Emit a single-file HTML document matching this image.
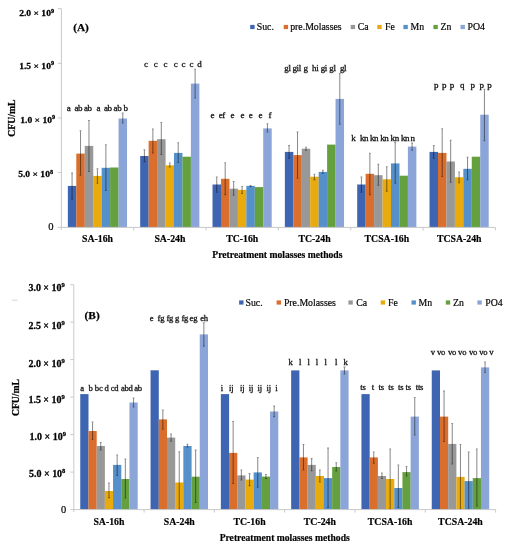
<!DOCTYPE html>
<html><head><meta charset="utf-8"><style>
html,body{margin:0;padding:0;background:#fff;width:512px;height:550px;overflow:hidden}
svg{display:block;will-change:transform}
text{font-family:"Liberation Serif",serif;fill:#000}
.b{font-weight:bold}
.l{stroke:#222;stroke-width:0.3px}
.t{stroke:#000;stroke-width:0.25px}
.g{stroke:#111;stroke-width:0.2px}
</style></head><body>
<svg width="512" height="550" viewBox="0 0 512 550">
<rect width="512" height="550" fill="#fff"/>
<rect x="67.85" y="185.9" width="8.5" height="41.5" fill="#3E65B2"/>
<rect x="76.3" y="153.6" width="8.5" height="73.8" fill="#DA6E2D"/>
<rect x="84.75" y="145.9" width="8.5" height="81.5" fill="#989898"/>
<rect x="93.2" y="175.9" width="8.5" height="51.5" fill="#E8AA0C"/>
<rect x="101.65" y="167.8" width="8.5" height="59.6" fill="#5590CA"/>
<rect x="110.1" y="167.5" width="8.5" height="59.9" fill="#65A03F"/>
<rect x="118.55" y="118.5" width="8.5" height="108.9" fill="#8CA5D8"/>
<path d="M72.07 173.1V199.3M71.17 173.1H72.97M71.17 199.3H72.97" stroke="rgba(0,0,0,0.45)" stroke-width="1.05" fill="none"/>
<path d="M80.52 130.7V175.2M79.62 130.7H81.42M79.62 175.2H81.42" stroke="rgba(0,0,0,0.45)" stroke-width="1.05" fill="none"/>
<path d="M88.97 120.5V171.4M88.07 120.5H89.88M88.07 171.4H89.88" stroke="rgba(0,0,0,0.45)" stroke-width="1.05" fill="none"/>
<path d="M97.42 168.8V183.3M96.52 168.8H98.32M96.52 183.3H98.32" stroke="rgba(0,0,0,0.45)" stroke-width="1.05" fill="none"/>
<path d="M105.88 144.7V190.4M104.97 144.7H106.78M104.97 190.4H106.78" stroke="rgba(0,0,0,0.45)" stroke-width="1.05" fill="none"/>
<path d="M122.77 112.9V123M121.87 112.9H123.67M121.87 123H123.67" stroke="rgba(0,0,0,0.45)" stroke-width="1.05" fill="none"/>
<rect x="140.18" y="156" width="8.5" height="71.4" fill="#3E65B2"/>
<rect x="148.63" y="140.8" width="8.5" height="86.6" fill="#DA6E2D"/>
<rect x="157.08" y="139.2" width="8.5" height="88.2" fill="#989898"/>
<rect x="165.53" y="165.3" width="8.5" height="62.1" fill="#E8AA0C"/>
<rect x="173.98" y="152.9" width="8.5" height="74.5" fill="#5590CA"/>
<rect x="182.43" y="156.7" width="8.5" height="70.7" fill="#65A03F"/>
<rect x="190.88" y="83.6" width="8.5" height="143.8" fill="#8CA5D8"/>
<path d="M144.41 149.7V161.8M143.51 149.7H145.31M143.51 161.8H145.31" stroke="rgba(0,0,0,0.45)" stroke-width="1.05" fill="none"/>
<path d="M152.86 129V152.9M151.96 129H153.76M151.96 152.9H153.76" stroke="rgba(0,0,0,0.45)" stroke-width="1.05" fill="none"/>
<path d="M161.31 122.4V154.5M160.41 122.4H162.21M160.41 154.5H162.21" stroke="rgba(0,0,0,0.45)" stroke-width="1.05" fill="none"/>
<path d="M169.76 163V166.9M168.86 163H170.66M168.86 166.9H170.66" stroke="rgba(0,0,0,0.45)" stroke-width="1.05" fill="none"/>
<path d="M178.21 142.7V162.4M177.31 142.7H179.11M177.31 162.4H179.11" stroke="rgba(0,0,0,0.45)" stroke-width="1.05" fill="none"/>
<path d="M195.11 69.3V97.9M194.21 69.3H196.01M194.21 97.9H196.01" stroke="rgba(0,0,0,0.45)" stroke-width="1.05" fill="none"/>
<rect x="212.52" y="184.5" width="8.5" height="42.9" fill="#3E65B2"/>
<rect x="220.97" y="178.8" width="8.5" height="48.6" fill="#DA6E2D"/>
<rect x="229.42" y="188.7" width="8.5" height="38.7" fill="#989898"/>
<rect x="237.87" y="189.9" width="8.5" height="37.5" fill="#E8AA0C"/>
<rect x="246.32" y="185.9" width="8.5" height="41.5" fill="#5590CA"/>
<rect x="254.77" y="187.1" width="8.5" height="40.3" fill="#65A03F"/>
<rect x="263.22" y="128.4" width="8.5" height="99" fill="#8CA5D8"/>
<path d="M216.74 176.9V192.3M215.84 176.9H217.64M215.84 192.3H217.64" stroke="rgba(0,0,0,0.45)" stroke-width="1.05" fill="none"/>
<path d="M225.19 162.7V194.6M224.29 162.7H226.09M224.29 194.6H226.09" stroke="rgba(0,0,0,0.45)" stroke-width="1.05" fill="none"/>
<path d="M233.64 181.6V195.3M232.74 181.6H234.54M232.74 195.3H234.54" stroke="rgba(0,0,0,0.45)" stroke-width="1.05" fill="none"/>
<path d="M242.09 186.4V193.4M241.19 186.4H242.99M241.19 193.4H242.99" stroke="rgba(0,0,0,0.45)" stroke-width="1.05" fill="none"/>
<path d="M250.54 185.4V186.4M249.64 185.4H251.44M249.64 186.4H251.44" stroke="rgba(0,0,0,0.45)" stroke-width="1.05" fill="none"/>
<path d="M267.44 123.7V131.9M266.54 123.7H268.34M266.54 131.9H268.34" stroke="rgba(0,0,0,0.45)" stroke-width="1.05" fill="none"/>
<rect x="284.85" y="151.9" width="8.5" height="75.5" fill="#3E65B2"/>
<rect x="293.3" y="155.1" width="8.5" height="72.3" fill="#DA6E2D"/>
<rect x="301.75" y="148.7" width="8.5" height="78.7" fill="#989898"/>
<rect x="310.2" y="176.7" width="8.5" height="50.7" fill="#E8AA0C"/>
<rect x="318.65" y="171.9" width="8.5" height="55.5" fill="#5590CA"/>
<rect x="327.1" y="144.6" width="8.5" height="82.8" fill="#65A03F"/>
<rect x="335.55" y="98.9" width="8.5" height="128.5" fill="#8CA5D8"/>
<path d="M289.07 145.6V158.3M288.18 145.6H289.97M288.18 158.3H289.97" stroke="rgba(0,0,0,0.45)" stroke-width="1.05" fill="none"/>
<path d="M297.52 131.9V178.3M296.62 131.9H298.42M296.62 178.3H298.42" stroke="rgba(0,0,0,0.45)" stroke-width="1.05" fill="none"/>
<path d="M305.97 147.2V150.3M305.07 147.2H306.87M305.07 150.3H306.87" stroke="rgba(0,0,0,0.45)" stroke-width="1.05" fill="none"/>
<path d="M314.42 174.2V179.6M313.52 174.2H315.32M313.52 179.6H315.32" stroke="rgba(0,0,0,0.45)" stroke-width="1.05" fill="none"/>
<path d="M322.87 170.3V173.2M321.97 170.3H323.77M321.97 173.2H323.77" stroke="rgba(0,0,0,0.45)" stroke-width="1.05" fill="none"/>
<path d="M339.77 73.4V124.3M338.88 73.4H340.67M338.88 124.3H340.67" stroke="rgba(0,0,0,0.45)" stroke-width="1.05" fill="none"/>
<rect x="357.18" y="184.5" width="8.5" height="42.9" fill="#3E65B2"/>
<rect x="365.63" y="173.8" width="8.5" height="53.6" fill="#DA6E2D"/>
<rect x="374.08" y="175.2" width="8.5" height="52.2" fill="#989898"/>
<rect x="382.53" y="179.3" width="8.5" height="48.1" fill="#E8AA0C"/>
<rect x="390.98" y="163.4" width="8.5" height="64" fill="#5590CA"/>
<rect x="399.43" y="175.7" width="8.5" height="51.7" fill="#65A03F"/>
<rect x="407.88" y="146.6" width="8.5" height="80.8" fill="#8CA5D8"/>
<path d="M361.41 176.9V192.3M360.51 176.9H362.31M360.51 192.3H362.31" stroke="rgba(0,0,0,0.45)" stroke-width="1.05" fill="none"/>
<path d="M369.86 153.2V194.6M368.96 153.2H370.76M368.96 194.6H370.76" stroke="rgba(0,0,0,0.45)" stroke-width="1.05" fill="none"/>
<path d="M378.31 164.3V185.2M377.41 164.3H379.21M377.41 185.2H379.21" stroke="rgba(0,0,0,0.45)" stroke-width="1.05" fill="none"/>
<path d="M386.76 166.7V191.1M385.86 166.7H387.66M385.86 191.1H387.66" stroke="rgba(0,0,0,0.45)" stroke-width="1.05" fill="none"/>
<path d="M395.21 142.6V183.3M394.31 142.6H396.11M394.31 183.3H396.11" stroke="rgba(0,0,0,0.45)" stroke-width="1.05" fill="none"/>
<path d="M412.11 143.1V150.2M411.21 143.1H413.01M411.21 150.2H413.01" stroke="rgba(0,0,0,0.45)" stroke-width="1.05" fill="none"/>
<rect x="429.52" y="151.9" width="8.5" height="75.5" fill="#3E65B2"/>
<rect x="437.97" y="152.9" width="8.5" height="74.5" fill="#DA6E2D"/>
<rect x="446.42" y="161.5" width="8.5" height="65.9" fill="#989898"/>
<rect x="454.87" y="177.3" width="8.5" height="50.1" fill="#E8AA0C"/>
<rect x="463.32" y="168.8" width="8.5" height="58.6" fill="#5590CA"/>
<rect x="471.77" y="156.7" width="8.5" height="70.7" fill="#65A03F"/>
<rect x="480.22" y="114.7" width="8.5" height="112.7" fill="#8CA5D8"/>
<path d="M433.74 145.6V158.3M432.84 145.6H434.64M432.84 158.3H434.64" stroke="rgba(0,0,0,0.45)" stroke-width="1.05" fill="none"/>
<path d="M442.19 128.7V176.4M441.29 128.7H443.09M441.29 176.4H443.09" stroke="rgba(0,0,0,0.45)" stroke-width="1.05" fill="none"/>
<path d="M450.64 140.2V182.1M449.74 140.2H451.54M449.74 182.1H451.54" stroke="rgba(0,0,0,0.45)" stroke-width="1.05" fill="none"/>
<path d="M459.09 171.9V182.7M458.19 171.9H459.99M458.19 182.7H459.99" stroke="rgba(0,0,0,0.45)" stroke-width="1.05" fill="none"/>
<path d="M467.54 157.3V179.6M466.64 157.3H468.44M466.64 179.6H468.44" stroke="rgba(0,0,0,0.45)" stroke-width="1.05" fill="none"/>
<path d="M484.44 89.3V140.8M483.54 89.3H485.34M483.54 140.8H485.34" stroke="rgba(0,0,0,0.45)" stroke-width="1.05" fill="none"/>
<path d="M61.4 8.6V229.9M57.9 227.4H495.4" stroke="#C9C9C9" stroke-width="1" fill="none"/>
<path d="M57.9 8.6H61.4M57.9 63.3H61.4M57.9 117.9H61.4M57.9 172.4H61.4M133.73 227.4V230.4M206.07 227.4V230.4M278.4 227.4V230.4M350.73 227.4V230.4M423.07 227.4V230.4M495.4 227.4V230.4" stroke="#C9C9C9" stroke-width="1" fill="none"/>
<text transform="translate(54.1 16.2) scale(1.05 1)" text-anchor="end" class="b t" font-size="9.12">2.0 × 10<tspan font-size="6.02" dy="-3.65">9</tspan></text>
<text transform="translate(54.1 68.9) scale(1.05 1)" text-anchor="end" class="b t" font-size="9.12">1.5 × 10<tspan font-size="6.02" dy="-3.65">9</tspan></text>
<text transform="translate(55.2 123.1) scale(1.05 1)" text-anchor="end" class="b t" font-size="9.12">1.0 × 10<tspan font-size="6.02" dy="-3.65">9</tspan></text>
<text transform="translate(53.1 177.2) scale(1.05 1)" text-anchor="end" class="b t" font-size="9.12">5.0 × 10<tspan font-size="6.02" dy="-3.65">8</tspan></text>
<text x="53.6" y="230.2" text-anchor="end" font-size="10.6" class="g">0</text>
<text x="66.7" y="110.6" font-size="9" letter-spacing="-0.4" class="l">a</text>
<text x="74.5" y="110.6" font-size="9" letter-spacing="-0.4" class="l">ab</text>
<text x="83.9" y="110.6" font-size="9" letter-spacing="-0.4" class="l">ab</text>
<text x="96.4" y="110.6" font-size="9" letter-spacing="-0.4" class="l">a</text>
<text x="103.9" y="110.6" font-size="9" letter-spacing="-0.4" class="l">ab</text>
<text x="113.6" y="110.6" font-size="9" letter-spacing="-0.4" class="l">ab</text>
<text x="123.45" y="110.6" font-size="9" letter-spacing="-0.4" class="l">b</text>
<text x="144.1" y="67.1" font-size="9" letter-spacing="-0.4" class="l">c</text>
<text x="153.7" y="67.1" font-size="9" letter-spacing="-0.4" class="l">c</text>
<text x="163.6" y="67.1" font-size="9" letter-spacing="-0.4" class="l">c</text>
<text x="173.7" y="67.1" font-size="9" letter-spacing="-0.4" class="l">c</text>
<text x="181.6" y="67.1" font-size="9" letter-spacing="-0.4" class="l">c</text>
<text x="189.4" y="67.1" font-size="9" letter-spacing="-0.4" class="l">c</text>
<text x="197.2" y="67.1" font-size="9" letter-spacing="-0.4" class="l">d</text>
<text x="210.6" y="118.2" font-size="9" letter-spacing="-0.4" class="l">e</text>
<text x="218.7" y="118.2" font-size="9" letter-spacing="-0.4" class="l">ef</text>
<text x="230.5" y="118.2" font-size="9" letter-spacing="-0.4" class="l">e</text>
<text x="240.6" y="118.2" font-size="9" letter-spacing="-0.4" class="l">e</text>
<text x="248.7" y="118.2" font-size="9" letter-spacing="-0.4" class="l">e</text>
<text x="258.6" y="118.2" font-size="9" letter-spacing="-0.4" class="l">e</text>
<text x="268.45" y="118.2" font-size="9" letter-spacing="-0.4" class="l">f</text>
<text x="284.3" y="70.9" font-size="9" letter-spacing="-0.4" class="l">gl</text>
<text x="292.5" y="70.9" font-size="9" letter-spacing="-0.4" class="l">gil</text>
<text x="303.5" y="70.9" font-size="9" letter-spacing="-0.4" class="l">g</text>
<text x="312.1" y="70.9" font-size="9" letter-spacing="-0.4" class="l">hi</text>
<text x="320.7" y="70.9" font-size="9" letter-spacing="-0.4" class="l">gi</text>
<text x="329.3" y="70.9" font-size="9" letter-spacing="-0.4" class="l">gl</text>
<text x="339.9" y="70.9" font-size="9" letter-spacing="-0.4" class="l">gl</text>
<text x="351.3" y="140.9" font-size="9" letter-spacing="-0.4" class="l">k</text>
<text x="359.9" y="140.9" font-size="9" letter-spacing="-0.4" class="l">kn</text>
<text x="370" y="140.9" font-size="9" letter-spacing="-0.4" class="l">kn</text>
<text x="380.2" y="140.9" font-size="9" letter-spacing="-0.4" class="l">kn</text>
<text x="390.6" y="140.9" font-size="9" letter-spacing="-0.4" class="l">kn</text>
<text x="400.95" y="140.9" font-size="9" letter-spacing="-0.4" class="l">kn</text>
<text x="410.6" y="140.9" font-size="9" letter-spacing="-0.4" class="l">n</text>
<text x="433.9" y="87.8" font-size="9" letter-spacing="-0.4" class="l">p</text>
<text x="442" y="87.8" font-size="9" letter-spacing="-0.4" class="l">p</text>
<text x="449.8" y="87.8" font-size="9" letter-spacing="-0.4" class="l">p</text>
<text x="460" y="87.8" font-size="9" letter-spacing="-0.4" class="l">q</text>
<text x="470.45" y="87.8" font-size="9" letter-spacing="-0.4" class="l">p</text>
<text x="479.5" y="87.8" font-size="9" letter-spacing="-0.4" class="l">p</text>
<text x="487.3" y="87.8" font-size="9" letter-spacing="-0.4" class="l">p</text>
<text x="97.57" y="242" text-anchor="middle" class="b g" font-size="9.8">SA-16h</text>
<text x="169.9" y="242" text-anchor="middle" class="b g" font-size="9.8">SA-24h</text>
<text x="242.23" y="242" text-anchor="middle" class="b g" font-size="9.8">TC-16h</text>
<text x="314.57" y="242" text-anchor="middle" class="b g" font-size="9.8">TC-24h</text>
<text x="386.9" y="242" text-anchor="middle" class="b g" font-size="9.8">TCSA-16h</text>
<text x="459.23" y="242" text-anchor="middle" class="b g" font-size="9.8">TCSA-24h</text>
<text x="277.4" y="257.6" text-anchor="middle" class="b g" font-size="9.65">Pretreatment molasses methods</text>
<text x="73.2" y="30.8" class="b t" font-size="11.3">(A)</text>
<text transform="translate(14.7 118.1) rotate(-90)" text-anchor="middle" class="b t" font-size="9.7">CFU/mL</text>
<rect x="250.2" y="24.9" width="4.4" height="4.2" fill="#3E65B2"/>
<text x="256.7" y="29.8" font-size="9.8" class="g">Suc.</text>
<rect x="283.7" y="24.9" width="4.4" height="4.2" fill="#DA6E2D"/>
<text x="290.2" y="29.8" font-size="9.8" class="g">pre.Molasses</text>
<rect x="350.7" y="24.9" width="4.4" height="4.2" fill="#989898"/>
<text x="357.7" y="29.8" font-size="9.8" class="g">Ca</text>
<rect x="377.3" y="24.9" width="4.4" height="4.2" fill="#E8AA0C"/>
<text x="385.1" y="29.8" font-size="9.8" class="g">Fe</text>
<rect x="403.4" y="24.9" width="4.4" height="4.2" fill="#5590CA"/>
<text x="410.5" y="29.8" font-size="9.8" class="g">Mn</text>
<rect x="433.4" y="24.9" width="4.4" height="4.2" fill="#65A03F"/>
<text x="440.5" y="29.8" font-size="9.8" class="g">Zn</text>
<rect x="460.5" y="24.9" width="4.4" height="4.2" fill="#8CA5D8"/>
<text x="467.6" y="29.8" font-size="9.8" class="g">PO4</text>
<rect x="80.25" y="394.1" width="8.25" height="115.5" fill="#3E65B2"/>
<rect x="88.45" y="431" width="8.25" height="78.6" fill="#DA6E2D"/>
<rect x="96.65" y="446" width="8.25" height="63.6" fill="#989898"/>
<rect x="104.85" y="491" width="8.25" height="18.6" fill="#E8AA0C"/>
<rect x="113.05" y="464.9" width="8.25" height="44.7" fill="#5590CA"/>
<rect x="121.25" y="479" width="8.25" height="30.6" fill="#65A03F"/>
<rect x="129.45" y="402.5" width="8.25" height="107.1" fill="#8CA5D8"/>
<path d="M92.55 422V439.4M91.65 422H93.45M91.65 439.4H93.45" stroke="rgba(0,0,0,0.45)" stroke-width="1.05" fill="none"/>
<path d="M100.75 442.4V449.9M99.85 442.4H101.65M99.85 449.9H101.65" stroke="rgba(0,0,0,0.45)" stroke-width="1.05" fill="none"/>
<path d="M108.95 482.9V497.6M108.05 482.9H109.85M108.05 497.6H109.85" stroke="rgba(0,0,0,0.45)" stroke-width="1.05" fill="none"/>
<path d="M117.15 455V475.4M116.25 455H118.05M116.25 475.4H118.05" stroke="rgba(0,0,0,0.45)" stroke-width="1.05" fill="none"/>
<path d="M125.35 458.9V497.9M124.45 458.9H126.25M124.45 497.9H126.25" stroke="rgba(0,0,0,0.45)" stroke-width="1.05" fill="none"/>
<path d="M133.55 398V407M132.65 398H134.45M132.65 407H134.45" stroke="rgba(0,0,0,0.45)" stroke-width="1.05" fill="none"/>
<rect x="150.55" y="370.3" width="8.25" height="139.3" fill="#3E65B2"/>
<rect x="158.75" y="419.4" width="8.25" height="90.2" fill="#DA6E2D"/>
<rect x="166.95" y="437.6" width="8.25" height="72" fill="#989898"/>
<rect x="175.15" y="482.5" width="8.25" height="27.1" fill="#E8AA0C"/>
<rect x="183.35" y="446" width="8.25" height="63.6" fill="#5590CA"/>
<rect x="191.55" y="476.7" width="8.25" height="32.9" fill="#65A03F"/>
<rect x="199.75" y="334.4" width="8.25" height="175.2" fill="#8CA5D8"/>
<path d="M162.85 410V429.2M161.95 410H163.75M161.95 429.2H163.75" stroke="rgba(0,0,0,0.45)" stroke-width="1.05" fill="none"/>
<path d="M171.05 434V441.2M170.15 434H171.95M170.15 441.2H171.95" stroke="rgba(0,0,0,0.45)" stroke-width="1.05" fill="none"/>
<path d="M179.25 451.8V509M178.35 451.8H180.15M178.35 509H180.15" stroke="rgba(0,0,0,0.45)" stroke-width="1.05" fill="none"/>
<path d="M187.45 444.3V447M186.55 444.3H188.35M186.55 447H188.35" stroke="rgba(0,0,0,0.45)" stroke-width="1.05" fill="none"/>
<path d="M195.65 450.1V502.4M194.75 450.1H196.55M194.75 502.4H196.55" stroke="rgba(0,0,0,0.45)" stroke-width="1.05" fill="none"/>
<path d="M203.85 322.7V346.1M202.95 322.7H204.75M202.95 346.1H204.75" stroke="rgba(0,0,0,0.45)" stroke-width="1.05" fill="none"/>
<rect x="220.85" y="394.1" width="8.25" height="115.5" fill="#3E65B2"/>
<rect x="229.05" y="452.9" width="8.25" height="56.7" fill="#DA6E2D"/>
<rect x="237.25" y="475.4" width="8.25" height="34.2" fill="#989898"/>
<rect x="245.45" y="479.6" width="8.25" height="30" fill="#E8AA0C"/>
<rect x="253.65" y="472.4" width="8.25" height="37.2" fill="#5590CA"/>
<rect x="261.85" y="476.6" width="8.25" height="33" fill="#65A03F"/>
<rect x="270.05" y="411.5" width="8.25" height="98.1" fill="#8CA5D8"/>
<path d="M233.15 421.4V483.5M232.25 421.4H234.05M232.25 483.5H234.05" stroke="rgba(0,0,0,0.45)" stroke-width="1.05" fill="none"/>
<path d="M241.35 470V479.9M240.45 470H242.25M240.45 479.9H242.25" stroke="rgba(0,0,0,0.45)" stroke-width="1.05" fill="none"/>
<path d="M249.55 473.6V485.6M248.65 473.6H250.45M248.65 485.6H250.45" stroke="rgba(0,0,0,0.45)" stroke-width="1.05" fill="none"/>
<path d="M257.75 457.4V487.1M256.85 457.4H258.65M256.85 487.1H258.65" stroke="rgba(0,0,0,0.45)" stroke-width="1.05" fill="none"/>
<path d="M265.95 474.5V478.4M265.05 474.5H266.85M265.05 478.4H266.85" stroke="rgba(0,0,0,0.45)" stroke-width="1.05" fill="none"/>
<path d="M274.15 406.1V416.6M273.25 406.1H275.05M273.25 416.6H275.05" stroke="rgba(0,0,0,0.45)" stroke-width="1.05" fill="none"/>
<rect x="291.15" y="370.4" width="8.25" height="139.2" fill="#3E65B2"/>
<rect x="299.35" y="457.4" width="8.25" height="52.2" fill="#DA6E2D"/>
<rect x="307.55" y="464.9" width="8.25" height="44.7" fill="#989898"/>
<rect x="315.75" y="476" width="8.25" height="33.6" fill="#E8AA0C"/>
<rect x="323.95" y="478.1" width="8.25" height="31.5" fill="#5590CA"/>
<rect x="332.15" y="467" width="8.25" height="42.6" fill="#65A03F"/>
<rect x="340.35" y="370.4" width="8.25" height="139.2" fill="#8CA5D8"/>
<path d="M303.45 444.5V470M302.55 444.5H304.35M302.55 470H304.35" stroke="rgba(0,0,0,0.45)" stroke-width="1.05" fill="none"/>
<path d="M311.65 458.6V470.6M310.75 458.6H312.55M310.75 470.6H312.55" stroke="rgba(0,0,0,0.45)" stroke-width="1.05" fill="none"/>
<path d="M319.85 470V482M318.95 470H320.75M318.95 482H320.75" stroke="rgba(0,0,0,0.45)" stroke-width="1.05" fill="none"/>
<path d="M328.05 448.1V507.5M327.15 448.1H328.95M327.15 507.5H328.95" stroke="rgba(0,0,0,0.45)" stroke-width="1.05" fill="none"/>
<path d="M336.25 462.8V470.9M335.35 462.8H337.15M335.35 470.9H337.15" stroke="rgba(0,0,0,0.45)" stroke-width="1.05" fill="none"/>
<path d="M344.45 367.1V374M343.55 367.1H345.35M343.55 374H345.35" stroke="rgba(0,0,0,0.45)" stroke-width="1.05" fill="none"/>
<rect x="361.45" y="394.1" width="8.25" height="115.5" fill="#3E65B2"/>
<rect x="369.65" y="457.4" width="8.25" height="52.2" fill="#DA6E2D"/>
<rect x="377.85" y="476" width="8.25" height="33.6" fill="#989898"/>
<rect x="386.05" y="479" width="8.25" height="30.6" fill="#E8AA0C"/>
<rect x="394.25" y="488" width="8.25" height="21.6" fill="#5590CA"/>
<rect x="402.45" y="472.1" width="8.25" height="37.5" fill="#65A03F"/>
<rect x="410.65" y="416.6" width="8.25" height="93" fill="#8CA5D8"/>
<path d="M373.75 452V463.1M372.85 452H374.65M372.85 463.1H374.65" stroke="rgba(0,0,0,0.45)" stroke-width="1.05" fill="none"/>
<path d="M381.95 473V478.4M381.05 473H382.85M381.05 478.4H382.85" stroke="rgba(0,0,0,0.45)" stroke-width="1.05" fill="none"/>
<path d="M390.15 449V509M389.25 449H391.05M389.25 509H391.05" stroke="rgba(0,0,0,0.45)" stroke-width="1.05" fill="none"/>
<path d="M398.35 464.9V507.5M397.45 464.9H399.25M397.45 507.5H399.25" stroke="rgba(0,0,0,0.45)" stroke-width="1.05" fill="none"/>
<path d="M406.55 466.4V476M405.65 466.4H407.45M405.65 476H407.45" stroke="rgba(0,0,0,0.45)" stroke-width="1.05" fill="none"/>
<path d="M414.75 397.4V434.9M413.85 397.4H415.65M413.85 434.9H415.65" stroke="rgba(0,0,0,0.45)" stroke-width="1.05" fill="none"/>
<rect x="431.75" y="370.4" width="8.25" height="139.2" fill="#3E65B2"/>
<rect x="439.95" y="416.6" width="8.25" height="93" fill="#DA6E2D"/>
<rect x="448.15" y="443.9" width="8.25" height="65.7" fill="#989898"/>
<rect x="456.35" y="476.9" width="8.25" height="32.7" fill="#E8AA0C"/>
<rect x="464.55" y="481.1" width="8.25" height="28.5" fill="#5590CA"/>
<rect x="472.75" y="478.1" width="8.25" height="31.5" fill="#65A03F"/>
<rect x="480.95" y="367.4" width="8.25" height="142.2" fill="#8CA5D8"/>
<path d="M444.05 391.1V441.5M443.15 391.1H444.95M443.15 441.5H444.95" stroke="rgba(0,0,0,0.45)" stroke-width="1.05" fill="none"/>
<path d="M452.25 423.5V464M451.35 423.5H453.15M451.35 464H453.15" stroke="rgba(0,0,0,0.45)" stroke-width="1.05" fill="none"/>
<path d="M460.45 444.5V509M459.55 444.5H461.35M459.55 509H461.35" stroke="rgba(0,0,0,0.45)" stroke-width="1.05" fill="none"/>
<path d="M468.65 452V509M467.75 452H469.55M467.75 509H469.55" stroke="rgba(0,0,0,0.45)" stroke-width="1.05" fill="none"/>
<path d="M476.85 449V506M475.95 449H477.75M475.95 506H477.75" stroke="rgba(0,0,0,0.45)" stroke-width="1.05" fill="none"/>
<path d="M485.05 362V372.5M484.15 362H485.95M484.15 372.5H485.95" stroke="rgba(0,0,0,0.45)" stroke-width="1.05" fill="none"/>
<path d="M73.8 284.7V512.1M70.3 509.6H495.6" stroke="#C9C9C9" stroke-width="1" fill="none"/>
<path d="M70.3 284.7H73.8M70.3 322.2H73.8M70.3 359.6H73.8M70.3 397.1H73.8M70.3 434.6H73.8M70.3 472.1H73.8M144.1 509.6V512.6M214.4 509.6V512.6M284.7 509.6V512.6M355 509.6V512.6M425.3 509.6V512.6M495.6 509.6V512.6" stroke="#C9C9C9" stroke-width="1" fill="none"/>
<text transform="translate(64.8 290.5) scale(1.05 1)" text-anchor="end" class="b t" font-size="9.5">3.0 × 10<tspan font-size="6.27" dy="-3.8">9</tspan></text>
<text transform="translate(64.8 328.6) scale(1.05 1)" text-anchor="end" class="b t" font-size="9.5">2.5 × 10<tspan font-size="6.27" dy="-3.8">9</tspan></text>
<text transform="translate(64.8 366.6) scale(1.05 1)" text-anchor="end" class="b t" font-size="9.5">2.0 × 10<tspan font-size="6.27" dy="-3.8">9</tspan></text>
<text transform="translate(64.8 402.7) scale(1.05 1)" text-anchor="end" class="b t" font-size="9.5">1.5 × 10<tspan font-size="6.27" dy="-3.8">9</tspan></text>
<text transform="translate(66 439.6) scale(1.05 1)" text-anchor="end" class="b t" font-size="9.5">1.0 × 10<tspan font-size="6.27" dy="-3.8">9</tspan></text>
<text transform="translate(65.4 476.8) scale(1.05 1)" text-anchor="end" class="b t" font-size="9.5">5.0 × 10<tspan font-size="6.27" dy="-3.8">8</tspan></text>
<text x="66.2" y="512.9" text-anchor="end" font-size="10.4" class="g">0</text>
<text x="80.3" y="391.2" font-size="8.6" letter-spacing="-0.2" class="l">a</text>
<text x="88.6" y="391.2" font-size="8.6" letter-spacing="-0.2" class="l">b</text>
<text x="94.8" y="391.2" font-size="8.6" letter-spacing="-0.2" class="l">bc</text>
<text x="104.5" y="391.2" font-size="8.6" letter-spacing="-0.2" class="l">d</text>
<text x="110.7" y="391.2" font-size="8.6" letter-spacing="-0.2" class="l">cd</text>
<text x="120.9" y="391.2" font-size="8.6" letter-spacing="-0.2" class="l">abd</text>
<text x="134.2" y="391.2" font-size="8.6" letter-spacing="-0.2" class="l">ab</text>
<text x="149.7" y="321.2" font-size="8.6" letter-spacing="-0.2" class="l">e</text>
<text x="157.5" y="321.2" font-size="8.6" letter-spacing="-0.2" class="l">fg</text>
<text x="166.45" y="321.2" font-size="8.6" letter-spacing="-0.2" class="l">fg</text>
<text x="175" y="321.2" font-size="8.6" letter-spacing="-0.2" class="l">g</text>
<text x="181.45" y="321.2" font-size="8.6" letter-spacing="-0.2" class="l">fg</text>
<text x="189.6" y="321.2" font-size="8.6" letter-spacing="-0.2" class="l">eg</text>
<text x="200.2" y="321.2" font-size="8.6" letter-spacing="-0.2" class="l">eh</text>
<text x="220.8" y="391.2" font-size="8.6" letter-spacing="-0.2" class="l">i</text>
<text x="229.1" y="391.2" font-size="8.6" letter-spacing="-0.2" class="l">ij</text>
<text x="240" y="391.2" font-size="8.6" letter-spacing="-0.2" class="l">ij</text>
<text x="248.7" y="391.2" font-size="8.6" letter-spacing="-0.2" class="l">ij</text>
<text x="257.5" y="391.2" font-size="8.6" letter-spacing="-0.2" class="l">ij</text>
<text x="266.6" y="391.2" font-size="8.6" letter-spacing="-0.2" class="l">ij</text>
<text x="275.2" y="391.2" font-size="8.6" letter-spacing="-0.2" class="l">i</text>
<text x="288.6" y="364.9" font-size="8.6" letter-spacing="-0.2" class="l">k</text>
<text x="299.1" y="364.9" font-size="8.6" letter-spacing="-0.2" class="l">l</text>
<text x="307.4" y="364.9" font-size="8.6" letter-spacing="-0.2" class="l">l</text>
<text x="315.8" y="364.9" font-size="8.6" letter-spacing="-0.2" class="l">l</text>
<text x="324.6" y="364.9" font-size="8.6" letter-spacing="-0.2" class="l">l</text>
<text x="335" y="364.9" font-size="8.6" letter-spacing="-0.2" class="l">l</text>
<text x="343.6" y="364.9" font-size="8.6" letter-spacing="-0.2" class="l">k</text>
<text x="360.2" y="389.7" font-size="8.6" letter-spacing="-0.2" class="l">ts</text>
<text x="371.7" y="389.7" font-size="8.6" letter-spacing="-0.2" class="l">t</text>
<text x="378.5" y="389.7" font-size="8.6" letter-spacing="-0.2" class="l">ts</text>
<text x="388.3" y="389.7" font-size="8.6" letter-spacing="-0.2" class="l">ts</text>
<text x="398" y="389.7" font-size="8.6" letter-spacing="-0.2" class="l">ts</text>
<text x="405.5" y="389.7" font-size="8.6" letter-spacing="-0.2" class="l">ts</text>
<text x="415.7" y="389.7" font-size="8.6" letter-spacing="-0.2" class="l">tts</text>
<text x="430.7" y="355.1" font-size="8.6" letter-spacing="-0.2" class="l">v</text>
<text x="437" y="355.1" font-size="8.6" letter-spacing="-0.2" class="l">vo</text>
<text x="447.9" y="355.1" font-size="8.6" letter-spacing="-0.2" class="l">vo</text>
<text x="458.1" y="355.1" font-size="8.6" letter-spacing="-0.2" class="l">vo</text>
<text x="469" y="355.1" font-size="8.6" letter-spacing="-0.2" class="l">vo</text>
<text x="479.2" y="355.1" font-size="8.6" letter-spacing="-0.2" class="l">vo</text>
<text x="489.3" y="355.1" font-size="8.6" letter-spacing="-0.2" class="l">v</text>
<text x="108.95" y="524.5" text-anchor="middle" class="b g" font-size="9.8">SA-16h</text>
<text x="179.25" y="524.5" text-anchor="middle" class="b g" font-size="9.8">SA-24h</text>
<text x="249.55" y="524.5" text-anchor="middle" class="b g" font-size="9.8">TC-16h</text>
<text x="319.85" y="524.5" text-anchor="middle" class="b g" font-size="9.8">TC-24h</text>
<text x="390.15" y="524.5" text-anchor="middle" class="b g" font-size="9.8">TCSA-16h</text>
<text x="460.45" y="524.5" text-anchor="middle" class="b g" font-size="9.8">TCSA-24h</text>
<text x="284.7" y="541.25" text-anchor="middle" class="b g" font-size="9.65">Pretreatment molasses methods</text>
<text x="84.6" y="318.8" class="b t" font-size="11.3">(B)</text>
<text transform="translate(19.4 397.5) rotate(-90)" text-anchor="middle" class="b t" font-size="9.7">CFU/mL</text>
<rect x="239.1" y="300.4" width="4.4" height="4.2" fill="#3E65B2"/>
<text x="245.5" y="305.5" font-size="9.8" class="g">Suc.</text>
<rect x="276.6" y="300.4" width="4.4" height="4.2" fill="#DA6E2D"/>
<text x="283.9" y="305.5" font-size="9.8" class="g">Pre.Molasses</text>
<rect x="348.4" y="300.4" width="4.4" height="4.2" fill="#989898"/>
<text x="356.3" y="305.5" font-size="9.8" class="g">Ca</text>
<rect x="380.7" y="300.4" width="4.4" height="4.2" fill="#E8AA0C"/>
<text x="388.1" y="305.5" font-size="9.8" class="g">Fe</text>
<rect x="411.5" y="300.4" width="4.4" height="4.2" fill="#5590CA"/>
<text x="418.6" y="305.5" font-size="9.8" class="g">Mn</text>
<rect x="445.8" y="300.4" width="4.4" height="4.2" fill="#65A03F"/>
<text x="453.1" y="305.5" font-size="9.8" class="g">Zn</text>
<rect x="477.4" y="300.4" width="4.4" height="4.2" fill="#8CA5D8"/>
<text x="485.3" y="305.5" font-size="9.8" class="g">PO4</text>
<path d="M11.8 300.2H17.5" stroke="#d4d4d4" stroke-width="1"/>
</svg>
</body></html>
